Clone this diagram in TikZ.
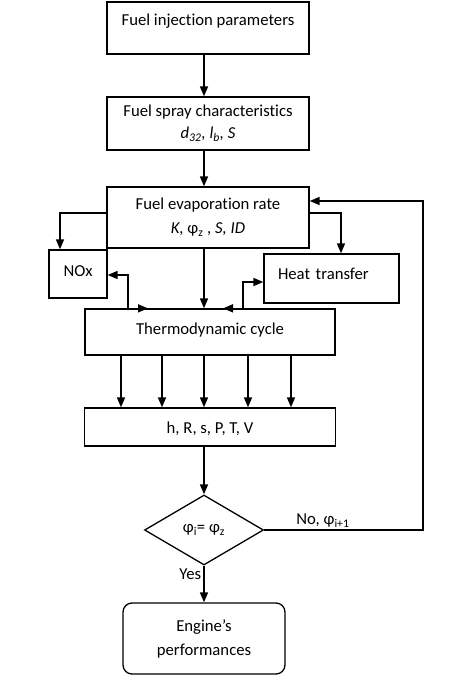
\documentclass[tikz,border=0pt]{standalone}
\usepackage{fontspec}
\setmainfont{Carlito}[Ligatures=NoCommon]
\usetikzlibrary{shapes.geometric,arrows.meta}
\tikzset{
  block/.style={draw, line width=1.3bp, rectangle, align=center, inner sep=0pt,
    font=\fontsize{16.7bp}{22bp}\selectfont},
  decision/.style={block, diamond, aspect=1.7},
  terminal/.style={block, rounded corners=9bp},
  flow/.style={line width=1.6bp, ->},
  tag/.style={font=\fontsize{16.7bp}{20bp}\selectfont, inner sep=2bp}
}

\begin{document}
\begin{tikzpicture}[x=1bp, y=-1bp, >={Triangle[length=10bp,width=8bp]}]
\useasboundingbox (0,0) rectangle (474,685);
%%% fuel side %%%

      \coordinate (spine) at (204,0);
      \coordinate (loop) at (423,0);
      %%
      \node[block, minimum width=202bp, minimum height=52bp, text height=19bp, text depth=23bp]
        (inject) at (208,28) {Fuel injection parameters};
      %
      \node[block, minimum width=202bp, minimum height=53bp]
        (spray) at (208,123.5) {Fuel spray characteristics\\ \textit{d\textsubscript{32}, l\textsubscript{b}, S}};
      %
      \node[block, minimum width=202bp, minimum height=61bp]
        (evap) at (208,217.5) {Fuel evaporation rate\\[2bp] \textit{K,} φ\textsubscript{z} , \textit{S, ID}};
      %%
      \node[block, minimum width=58bp, minimum height=48bp, text height=12bp, text depth=8bp]
        (nox) at (78,274) {NOx};
      %
      \node[block, minimum height=49bp, inner xsep=14bp, text width=107bp, align=left,
        text height=12bp, text depth=10bp]
        (heat) at (331.5,278.5) {Heat transfer};

%%% cycle side %%%

      \node[block, minimum width=250bp, minimum height=46bp, text height=12bp, text depth=8bp]
        (thermo) at (210,332) {Thermodynamic cycle};
      %
      \node[block, minimum width=251bp, minimum height=38bp, text height=12bp, text depth=0bp]
        (hrs) at (210,427) {h, R, s, P, T, V};
      %
      \node[decision, minimum width=119bp, minimum height=70bp]
        (check) at (204,530) {φ\textsubscript{i}= φ\textsubscript{z}};
      %
      \node[terminal, minimum width=162bp, minimum height=71bp]
        (goal) at (204,638.5) {Engine’s\\[2bp] performances};

%%% connectors %%%

      \draw[flow] (inject.south -| spine) -- (spray.north -| spine);
      \draw[flow] (spray.south -| spine) -- (evap.north -| spine);
      \draw[flow] ([yshift=4.5bp]evap.west) -| ([xshift=-18bp]nox.north);
      \draw[flow] ([yshift=4.5bp]evap.east) -| ([xshift=9.5bp]heat.north);
      \draw[flow] (evap.south -| spine) -- (thermo.north -| spine);
      %
      \draw[flow, <->] ([yshift=-1bp]nox.east) -| ([xshift=-82bp]thermo.north) -- ([xshift=-62bp]thermo.north);
      \draw[flow, <->] ([yshift=-3.5bp]heat.west) -| ([xshift=33bp]thermo.north) -- ([xshift=13bp]thermo.north);
      %
      \foreach \dx in {-89,-48,-6,38,81}
        \draw[flow] ([xshift=\dx bp]thermo.south) -- ([xshift=\dx bp]hrs.north);
      %
      \draw[flow] (hrs.south -| spine) -- (check.north);
      \draw[flow] (check.east) -- node[tag, above, pos=0.37] {No, φ\textsubscript{i+1}}
        (check.east -| loop) |- ([yshift=16.5bp]evap.east);
      \draw[flow] (check.south) -- node[tag, left, pos=0.22] {Yes} (goal.north);

\end{tikzpicture}
\end{document}
